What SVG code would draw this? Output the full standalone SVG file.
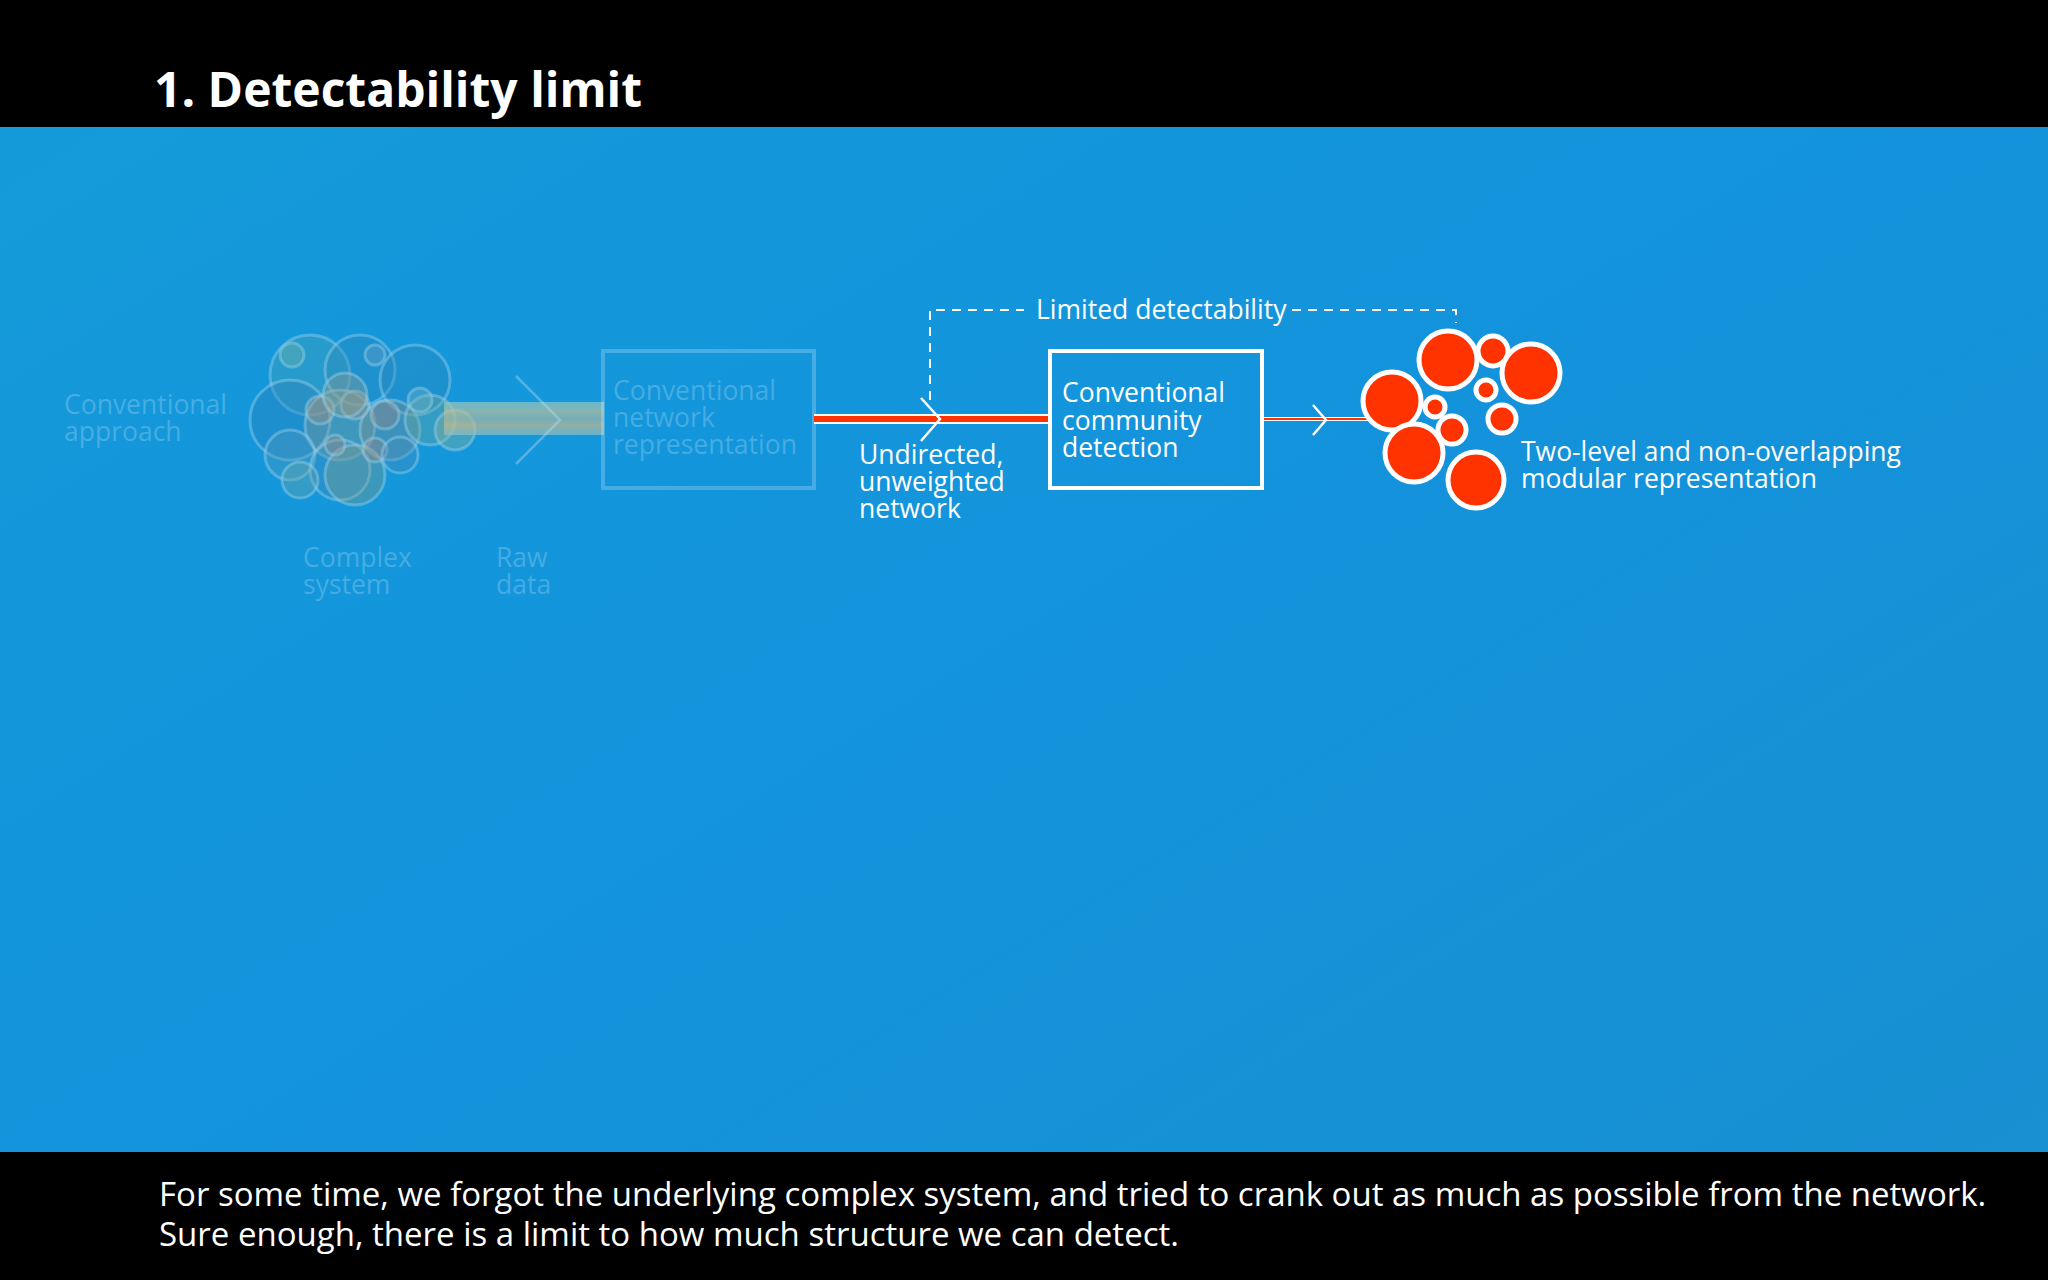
<svg xmlns="http://www.w3.org/2000/svg" width="2048" height="1280" viewBox="0 0 2048 1280">
<defs>
<linearGradient id="bg" x1="0" y1="0" x2="1" y2="1">
<stop offset="0" stop-color="#159bd9"/><stop offset="0.5" stop-color="#1393dc"/><stop offset="1" stop-color="#188fd0"/>
</linearGradient>
<linearGradient id="bands" x1="0" y1="0" x2="0" y2="1">
<stop offset="0" stop-color="#8fc7c8"/><stop offset="0.3" stop-color="#b9c19a"/><stop offset="0.5" stop-color="#9fb9a8"/><stop offset="0.7" stop-color="#c8b98f"/><stop offset="1" stop-color="#8ac1c9"/>
</linearGradient>
<style>
text{font-family:"Open Sans","Noto Sans","DejaVu Sans",sans-serif;fill:#fff}
.faint{fill:rgba(255,255,255,0.22);font-size:26.5px}
.lbl{font-size:26.5px}
.fc{fill-opacity:0.35;stroke:#bfe3f0;stroke-opacity:0.45;stroke-width:3}
.rc{fill:#ff3300;stroke:#fff;stroke-width:5}
.dash{fill:none;stroke:#fff;stroke-width:2;stroke-dasharray:9 7}
.chev{fill:none;stroke:#fff;stroke-width:2.5}
</style>
</defs>
<rect width="2048" height="1280" fill="url(#bg)"/>
<rect width="2048" height="127" fill="#000"/>
<rect y="1152" width="2048" height="128" fill="#000"/>
<text x="154" y="107" font-size="48" font-weight="bold">1. Detectability limit</text>
<text x="159" y="1206" font-size="33">For some time, we forgot the underlying complex system, and tried to crank out as much as possible from the network.</text>
<text x="159" y="1246" font-size="33">Sure enough, there is a limit to how much structure we can detect.</text>

<g id="conventional-approach"><text class="faint" x="64" y="414">Conventional</text><text class="faint" x="64" y="441">approach</text></g>

<g id="complex-system" opacity="0.75">
<circle class="fc" cx="310" cy="375" r="40" fill="#5fa9a0"/>
<circle class="fc" cx="360" cy="370" r="35" fill="#3a80b0"/>
<circle class="fc" cx="415" cy="380" r="35" fill="#3a80b0"/>
<circle class="fc" cx="290" cy="420" r="40" fill="#3a78b0"/>
<circle class="fc" cx="340" cy="425" r="35" fill="#b89a6a"/>
<circle class="fc" cx="390" cy="430" r="30" fill="#a88a6a"/>
<circle class="fc" cx="430" cy="420" r="25" fill="#8fae80"/>
<circle class="fc" cx="455" cy="430" r="20" fill="#c4c27a"/>
<circle class="fc" cx="290" cy="455" r="25" fill="#6a9ab0"/>
<circle class="fc" cx="340" cy="470" r="30" fill="#5a8ab0"/>
<circle class="fc" cx="355" cy="475" r="30" fill="#b0a060"/>
<circle class="fc" cx="300" cy="480" r="18" fill="#8fb090"/>
<circle class="fc" cx="320" cy="410" r="14" fill="#d89060"/>
<circle class="fc" cx="355" cy="405" r="14" fill="#d89060"/>
<circle class="fc" cx="385" cy="415" r="14" fill="#d08060"/>
<circle class="fc" cx="375" cy="450" r="12" fill="#d08060"/>
<circle class="fc" cx="335" cy="445" r="10" fill="#d08060"/>
<circle class="fc" cx="292" cy="355" r="12" fill="#90c090"/>
<circle class="fc" cx="375" cy="355" r="10" fill="#90a0c0"/>
<circle class="fc" cx="420" cy="400" r="12" fill="#90c0c0"/>
<circle class="fc" cx="345" cy="395" r="22" fill="#c0a070"/>
<circle class="fc" cx="400" cy="455" r="18" fill="#5a8ab0"/>
</g>
<g id="raw-data" opacity="0.7">
<rect x="444" y="402" width="160" height="33" fill="url(#bands)"/>
<path class="chev" d="M516,376 L560,420 L516,464" stroke-opacity="0.4" stroke-width="4"/>
</g>
<text class="faint" x="303" y="567">Complex</text><text class="faint" x="303" y="594">system</text>
<text class="faint" x="496" y="567">Raw</text><text class="faint" x="496" y="594">data</text>

<g id="network-representation">
<rect x="603" y="351" width="211" height="137" fill="none" stroke="rgba(255,255,255,0.22)" stroke-width="4"/>
<text class="faint" x="613" y="400">Conventional</text><text class="faint" x="613" y="427">network</text><text class="faint" x="613" y="454">representation</text>
</g>

<g id="connectors">
<rect x="814" y="414" width="236" height="10" fill="#fff"/>
<rect x="814" y="416" width="236" height="6" fill="#ff3300"/>
<path class="chev" d="M921,398 L940,419 L921,441"/>
<rect x="1262" y="417" width="109" height="4" fill="#fff"/>
<rect x="1262" y="418" width="109" height="2" fill="#ff3300"/>
<path class="chev" d="M1313,405 L1326,420 L1313,435" stroke-width="2"/>
<path class="dash" d="M930,400 V310 H1024"/>
<path class="dash" d="M1292,310 H1456 V323"/>
</g>
<text class="lbl" x="1036" y="319">Limited detectability</text>
<text class="lbl" x="859" y="464">Undirected,</text><text class="lbl" x="859" y="491">unweighted</text><text class="lbl" x="859" y="518">network</text>

<g id="community-detection">
<rect x="1050" y="351" width="212" height="137" fill="none" stroke="#fff" stroke-width="4"/>
<text class="lbl" x="1062" y="402">Conventional</text><text class="lbl" x="1062" y="430">community</text><text class="lbl" x="1062" y="457">detection</text>
</g>

<g id="modular-representation">
<circle class="rc" cx="1392" cy="401" r="29"/>
<circle class="rc" cx="1448" cy="360" r="29"/>
<circle class="rc" cx="1493" cy="351" r="15"/>
<circle class="rc" cx="1531" cy="373" r="29"/>
<circle class="rc" cx="1486" cy="390" r="10"/>
<circle class="rc" cx="1435" cy="407" r="10"/>
<circle class="rc" cx="1452" cy="430" r="14"/>
<circle class="rc" cx="1502" cy="419" r="14"/>
<circle class="rc" cx="1414" cy="453" r="29"/>
<circle class="rc" cx="1476" cy="480" r="28"/>
<text class="lbl" x="1521" y="461">Two-level and non-overlapping</text><text class="lbl" x="1521" y="488">modular representation</text>
</g>
</svg>
